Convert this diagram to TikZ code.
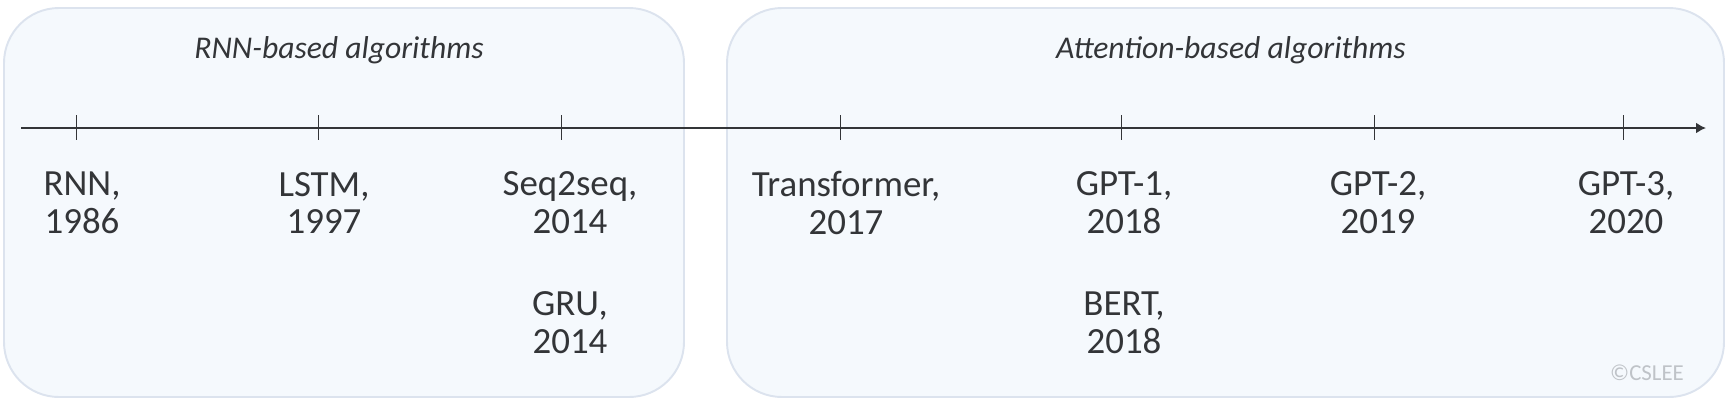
\documentclass[tikz,border=0pt]{standalone}
\usepackage{fontspec}
\setmainfont{Carlito}
\usepackage{xcolor}
\usetikzlibrary{positioning, arrows.meta}
\definecolor{boxfill}{HTML}{F5F9FD}
\definecolor{boxline}{HTML}{DCE3EE}
\definecolor{ink}{HTML}{333538}
\definecolor{mark}{HTML}{BFC3C8}

\begin{document}
\begin{tikzpicture}[x=0.02cm, y=-0.02cm,
    era/.style={draw=boxline, fill=boxfill, line width=1.1pt, rounded corners=1.1cm},
    year/.style={text=ink, align=center, inner sep=0pt, font=\fontsize{21}{21.6}\selectfont},
    era title/.style={text=ink, inner sep=0pt, font=\itshape\fontsize{18}{20}\selectfont},
    tick/.style={draw=ink, line width=0.5pt}]
      \useasboundingbox (0,0) rectangle (1726,400);
      \draw[era] (4,8) rectangle (684,397);
      \draw[era] (727,8) rectangle (1724,397);
      \node[era title] (rnntitle) at (339,50) {RNN-based algorithms};
      \node[era title] (atttitle) at (1231,50) {Attention-based algorithms};
      \coordinate (start) at (21,128);
      \coordinate (end) at (1706,128);
      \draw[ink, line width=1.1pt, -{Latex[length=2mm, width=2.2mm]}] (start) -- (end);
      \foreach \x in {76,318,561,840,1121,1374,1623}
        \draw[tick] (\x,115) -- (\x,140);
      \node[year] (rnn) at (82,203) {RNN,\\1986};
      \node[year] (lstm) at (324,203) {LSTM,\\1997};
      \node[year] (seq) at (570,203) {Seq2seq,\\2014};
      \node[year] (gru) at (570,323) {GRU,\\2014};
      \node[year] (trans) at (846,203) {Transformer,\\2017};
      \node[year] (gpta) at (1124,203) {GPT-1,\\2018};
      \node[year] (bert) at (1124,323) {BERT,\\2018};
      \node[year] (gptb) at (1378,203) {GPT-2,\\2019};
      \node[year] (gptc) at (1626,203) {GPT-3,\\2020};
      \node[text=mark, inner sep=0pt, font=\fontsize{13}{14}\selectfont] (sign) at (1647,373) {©CSLEE};
\end{tikzpicture}
\end{document}
